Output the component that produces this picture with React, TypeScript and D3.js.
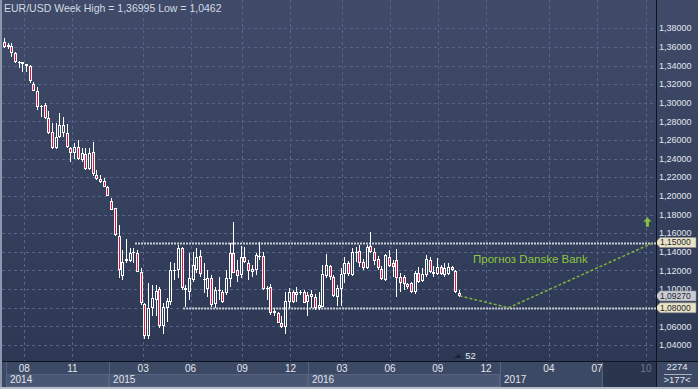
import * as d3 from 'd3';

// EUR/USD weekly candles, [open, high, low, close] (Jun 2014 – Oct 2016)
const weeklyOHLC: [number, number, number, number][] = [
  [1.3650, 1.36995, 1.3585, 1.3603], [1.3603, 1.3646, 1.3578, 1.3621], [1.3610, 1.3639, 1.3495, 1.3532],
  [1.3532, 1.3549, 1.3424, 1.3435], [1.3427, 1.3449, 1.3371, 1.3437], [1.3437, 1.3442, 1.3334, 1.3414],
  [1.3399, 1.3417, 1.3334, 1.3414], [1.3396, 1.3406, 1.3210, 1.3238], [1.3202, 1.3227, 1.3127, 1.3130],
  [1.3130, 1.3167, 1.2923, 1.2952], [1.2950, 1.2977, 1.2851, 1.2962], [1.2974, 1.3002, 1.2824, 1.2834],
  [1.2834, 1.2913, 1.2666, 1.2680], [1.2684, 1.2781, 1.2502, 1.2512], [1.2512, 1.2787, 1.2508, 1.2630],
  [1.2630, 1.2888, 1.2626, 1.2762], [1.2673, 1.2845, 1.2637, 1.2762], [1.2680, 1.2773, 1.2512, 1.2523],
  [1.2512, 1.2530, 1.2362, 1.2459], [1.2465, 1.2566, 1.2394, 1.2530], [1.2523, 1.2601, 1.2387, 1.2394],
  [1.2387, 1.2512, 1.2369, 1.2466], [1.2451, 1.2512, 1.2279, 1.2287], [1.2287, 1.2512, 1.2279, 1.2459],
  [1.2470, 1.2580, 1.2215, 1.2237], [1.2226, 1.2279, 1.2172, 1.2180], [1.2180, 1.2226, 1.2143, 1.2154],
  [1.2162, 1.2190, 1.2094, 1.2100], [1.2100, 1.2111, 1.2004, 1.2004], [1.1944, 1.1982, 1.1850, 1.1850],
  [1.1869, 1.1875, 1.1571, 1.1579], [1.1571, 1.1689, 1.1117, 1.1206], [1.1142, 1.1421, 1.1099, 1.1296],
  [1.1303, 1.1539, 1.1279, 1.1321], [1.1306, 1.1439, 1.1289, 1.1392], [1.1386, 1.1439, 1.1279, 1.1403],
  [1.1392, 1.1421, 1.1188, 1.1188], [1.1188, 1.1230, 1.0830, 1.0852], [1.0841, 1.0850, 1.0465, 1.0492],
  // 2015
  [1.0492, 1.1064, 1.0462, 1.0795], [1.0793, 1.1045, 1.0706, 1.0903], [1.0880, 1.1040, 1.0715, 1.0985],
  [1.0999, 1.1027, 1.0580, 1.0609], [1.0609, 1.0849, 1.0520, 1.0813], [1.0795, 1.0903, 1.0652, 1.0874],
  [1.0867, 1.1296, 1.0831, 1.1206], [1.1196, 1.1279, 1.1100, 1.1204], [1.1206, 1.1475, 1.1117, 1.1439],
  [1.1439, 1.1457, 1.0992, 1.1010], [1.1010, 1.1045, 1.0810, 1.0992], [1.0974, 1.1386, 1.0884, 1.1117],
  [1.1099, 1.1403, 1.1081, 1.1260], [1.1206, 1.1439, 1.1171, 1.1349], [1.1356, 1.1421, 1.1134, 1.1163],
  [1.1104, 1.1278, 1.0955, 1.1110], [1.0997, 1.1206, 1.0918, 1.1115], [1.1117, 1.1153, 1.0813, 1.0831],
  [1.0842, 1.1027, 1.0795, 1.0992], [1.0985, 1.1128, 1.0884, 1.0990], [1.0974, 1.0992, 1.0856, 1.0867],
  [1.0963, 1.1206, 1.0938, 1.1117], [1.1107, 1.1493, 1.1027, 1.1392], [1.1392, 1.1725, 1.1171, 1.1178],
  [1.1206, 1.1314, 1.1081, 1.1145], [1.1155, 1.1461, 1.1117, 1.1349], [1.1343, 1.1457, 1.1279, 1.1296],
  [1.1285, 1.1314, 1.1099, 1.1199], [1.1217, 1.1260, 1.1134, 1.1188], [1.1206, 1.1386, 1.1153, 1.1367],
  [1.1360, 1.1510, 1.1314, 1.1350], [1.1357, 1.1403, 1.0992, 1.1003], [1.1015, 1.1035, 1.0884, 1.1010],
  [1.1027, 1.1056, 1.0724, 1.0742], [1.0770, 1.0796, 1.0706, 1.0742], [1.0742, 1.0759, 1.0634, 1.0641],
  [1.0641, 1.0713, 1.0580, 1.0592], [1.0598, 1.0974, 1.0520, 1.0877], [1.0867, 1.1010, 1.0795, 1.0974],
  [1.0974, 1.0992, 1.0850, 1.0867], [1.0935, 1.1027, 1.0867, 1.0974], [1.0974, 1.0992, 1.0938, 1.0970],
  // 2016
  [1.0967, 1.0992, 1.0850, 1.0856], [1.0867, 1.0974, 1.0706, 1.0938], [1.0946, 1.0988, 1.0795, 1.0914],
  [1.0920, 1.0946, 1.0777, 1.0795], [1.0795, 1.0974, 1.0777, 1.0831], [1.0813, 1.1260, 1.0813, 1.1160],
  [1.1142, 1.1378, 1.1117, 1.1260], [1.1250, 1.1260, 1.1099, 1.1128], [1.1128, 1.1153, 1.0920, 1.0928],
  [1.0914, 1.1045, 1.0820, 1.1010], [1.1005, 1.1225, 1.0822, 1.1160], [1.1160, 1.1342, 1.1063, 1.1278],
  [1.1285, 1.1306, 1.1145, 1.1160], [1.1153, 1.1439, 1.1142, 1.1403], [1.1395, 1.1450, 1.1296, 1.1403],
  [1.1410, 1.1475, 1.1236, 1.1285], [1.1289, 1.1325, 1.1206, 1.1225], [1.1225, 1.1475, 1.1214, 1.1457],
  [1.1464, 1.1616, 1.1386, 1.1403], [1.1403, 1.1439, 1.1260, 1.1306], [1.1322, 1.1357, 1.1206, 1.1225],
  [1.1217, 1.1249, 1.1099, 1.1107], [1.1099, 1.1378, 1.1092, 1.1367], [1.1349, 1.1421, 1.1235, 1.1249],
  [1.1278, 1.1314, 1.1128, 1.1242], [1.1314, 1.1428, 1.0912, 1.1117], [1.1135, 1.1171, 1.0967, 1.1064],
  [1.1128, 1.1153, 1.0992, 1.1053], [1.1053, 1.1070, 1.0999, 1.1027], [1.1064, 1.1081, 1.0956, 1.0974],
  [1.0967, 1.1199, 1.0949, 1.1171], [1.1171, 1.1235, 1.1063, 1.1081], [1.1089, 1.1224, 1.1081, 1.1160],
  [1.1153, 1.1367, 1.1134, 1.1321], [1.1314, 1.1350, 1.1171, 1.1189], [1.1189, 1.1249, 1.1134, 1.1160],
  [1.1160, 1.1332, 1.1153, 1.1235], [1.1235, 1.1260, 1.1153, 1.1160], [1.1153, 1.1278, 1.1134, 1.1224],
  [1.1163, 1.1285, 1.1153, 1.1242], [1.1235, 1.1249, 1.1199, 1.1206], [1.1199, 1.1206, 1.0963, 1.0974],
  [1.0963, 1.0992, 1.0914, 1.0927],
];

const priceTicks = [1.04, 1.06, 1.08, 1.10, 1.12, 1.14, 1.16, 1.18, 1.20, 1.22, 1.24, 1.26, 1.28, 1.30, 1.32, 1.34, 1.36, 1.38];

// month ticks, as (fractional) bar index
const monthLabels = ['08', '11', '03', '06', '09', '12', '03', '06', '09', '12', '04', '07', '10'];
const monthBars = [5.4, 18.4, 37.5, 50.3, 64.3, 77.3, 91.2, 104.2, 117.1, 130.1, 147.1, 160.1, 173.3];

const yearLabels = ['2014', '2015', '2016', '2017'];
const yearStartBars = [0.46, 28.3, 82.0, 133.9];
const yearBoxed = [true, true, true, false];
const futureShadeBar = 161.5;

// horizontal levels (value, bar where the dotted line starts)
const levelValues = [1.15, 1.08];
const levelStartBars = [35.3, 48.3];

// price tags on the right axis
const tagValues = [1.15, 1.0927, 1.08];
const tagFills = ['#e8e3c4', '#c9ccd2', '#e8e3c4'];

// Danske Bank forecast path
const forecastBars = [123, 136.2, 175.4];
const forecastValues = [1.0927, 1.08, 1.15];

const W = 698;
const H = 389;
const plotLeft = 2;
const plotRight = 656;
const plotBottom = 361;

const x = d3.scaleLinear().domain([0, weeklyOHLC.length - 1]).range([4.3, 459.7]);
const y = d3.scaleLinear().domain([1.04, 1.38]).range([345, 28.3]);

const fmt = (v: number) => d3.format('.5f')(v).replace('.', ',');
const snap = (v: number) => Math.round(v) + 0.5;

const font = '"Liberation Sans", Arial, sans-serif';

export default function App() {
  const forecastLine = d3.line<number>()
    .x((_, i) => x(forecastBars[i]))
    .y(d => y(d));

  return (
    <svg width={W} height={H} style={{ position: 'absolute', left: 0, top: 0, display: 'block' }}
      fontFamily={font}>
      <defs>
        <linearGradient id="plotBg" x1="0" y1="0" x2="0" y2="1">
          <stop offset="0" stopColor="#3f4b68" />
          <stop offset="1" stopColor="#2c3854" />
        </linearGradient>
      </defs>

      {/* backgrounds */}
      <rect x={0} y={0} width={W} height={plotBottom} fill="url(#plotBg)" />
      <rect x={0} y={plotBottom} width={W} height={H - plotBottom} fill="#3c4965" />

      {/* grid */}
      {priceTicks.map(t => (
        <line key={`gy${t}`} x1={plotLeft} x2={plotRight} y1={snap(y(t))} y2={snap(y(t))}
          stroke="#56648a" strokeDasharray="3,3" />
      ))}
      {monthBars.map((b, i) => (
        <line key={`gx${i}`} x1={snap(x(b))} x2={snap(x(b))} y1={0} y2={plotBottom}
          stroke="#56648a" strokeDasharray="3,3" />
      ))}

      {/* title */}
      <text x={4} y={12} fontSize={10.5} fill="#d4dae6">EUR/USD Week High = 1,36995 Low = 1,0462</text>

      {/* level lines */}
      {levelValues.map((v, i) => (
        <line key={`lv${i}`} x1={x(levelStartBars[i])} x2={plotRight} y1={snap(y(v))} y2={snap(y(v))}
          stroke="#c9cdd6" strokeWidth={2} strokeDasharray="2,1" />
      ))}

      {/* candles */}
      {weeklyOHLC.map(([o, h, l, c], i) => {
        const cx = Math.floor(x(i)) + 0.5;
        const top = Math.round(y(Math.max(o, c)));
        const bot = Math.max(Math.round(y(Math.min(o, c))), top + 1);
        const hi = Math.round(y(h));
        const lo = Math.round(y(l));
        const bear = c < o;
        return (
          <g key={i}>
            {hi < top && <line x1={cx} x2={cx} y1={hi} y2={top} stroke="#ffffff" />}
            {lo > bot && <line x1={cx} x2={cx} y1={bot} y2={lo} stroke="#ffffff" />}
            <rect x={cx - 1} y={top + 0.5} width={2} height={bot - top - 1 > 0 ? bot - top - 1 : 0.01}
              fill={bear ? '#e3123e' : 'none'} stroke="#ffffff" strokeWidth={1} />
          </g>
        );
      })}

      {/* forecast */}
      <path d={forecastLine(forecastValues) || ''} fill="none" stroke="#7fb23e" strokeWidth={1.5}
        strokeDasharray="3,2" />
      <text x={473} y={263} fontSize={11.5} fill="#8dc63f">Прогноз Danske Bank</text>
      <path
        d={`M${x(173.7)},${y(1.1772)} l4,4.5 h-2.5 v5 h-3 v-5 h-2.5 z`}
        fill="#86c046" />

      {/* "52" marker */}
      <path d={`M${x(122.6)},${plotBottom - 7} l4,4 h-8 z`} fill="#1c2436" />
      <text x={x(122.6) + 7} y={plotBottom - 2} fontSize={9.5} fill="#e6e9f0">52</text>

      {/* right axis */}
      <rect x={plotRight} y={0} width={W - plotRight} height={plotBottom} fill="url(#plotBg)" />
      {priceTicks.map(t => (
        <text key={`yl${t}`} x={659} y={y(t)} dy="0.35em" fontSize={9} fill="#e2e6ee">{fmt(t)}</text>
      ))}
      {tagValues.map((v, i) => {
        const yc = y(v);
        return (
          <g key={`tag${i}`}>
            <path d={`M${plotRight - 0.5},${yc} L${plotRight + 4},${yc - 5} H${W - 2} V${yc + 5} H${plotRight + 4} Z`}
              fill={tagFills[i]} stroke="#8f9098" strokeWidth={0.6} />
            <text x={660} y={yc} dy="0.34em" fontSize={8.5} fill="#1d2433">{fmt(v)}</text>
          </g>
        );
      })}

      {/* time axis */}
      <rect x={x(futureShadeBar)} y={plotBottom} width={plotRight - x(futureShadeBar)} height={H - plotBottom}
        fill="#2b354d" />
      {yearLabels.map((lab, i) => {
        const x0 = x(yearStartBars[i]);
        const x1 = i + 1 < yearStartBars.length ? x(yearStartBars[i + 1]) : x(futureShadeBar);
        return (
          <g key={lab}>
            {yearBoxed[i] && (
              <rect x={Math.round(x0) + 0.5} y={374.5} width={Math.round(x1 - x0) - 1} height={12}
                fill="#4a5774" stroke="#56637f" />
            )}
            <line x1={Math.round(x0) + 0.5} x2={Math.round(x0) + 0.5} y1={plotBottom} y2={387}
              stroke="#56637f" />
            <text x={x0 + 4} y={383} fontSize={10} fill="#e2e6ee">{lab}</text>
          </g>
        );
      })}
      <line x1={Math.round(x(futureShadeBar)) + 0.5} x2={Math.round(x(futureShadeBar)) + 0.5}
        y1={plotBottom} y2={387} stroke="#56637f" />
      {monthLabels.map((lab, i) => (
        <text key={`ml${i}`} x={x(monthBars[i])} y={372} fontSize={10} textAnchor="middle"
          fill={monthBars[i] > futureShadeBar ? '#6b7891' : '#e2e6ee'}>{lab}</text>
      ))}

      {/* bottom-right counter */}
      <text x={677} y={370} fontSize={9.5} textAnchor="middle" fill="#e2e6ee">2274</text>
      <line x1={664} x2={692} y1={374.5} y2={374.5} stroke="#aab2c2" />
      <text x={677} y={383} fontSize={9.5} textAnchor="middle" fill="#e2e6ee">&gt;177&lt;</text>

      {/* borders */}
      <line x1={plotRight + 0.5} x2={plotRight + 0.5} y1={0} y2={H} stroke="#0e1320" />
      <line x1={0} x2={W} y1={plotBottom + 0.5} y2={plotBottom + 0.5} stroke="#0e1320" />
      <rect x={0} y={0} width={2} height={H} fill="#8e98ac" />
      <rect x={0} y={H - 2} width={W} height={2} fill="#b4bcc9" />
    </svg>
  );
}
